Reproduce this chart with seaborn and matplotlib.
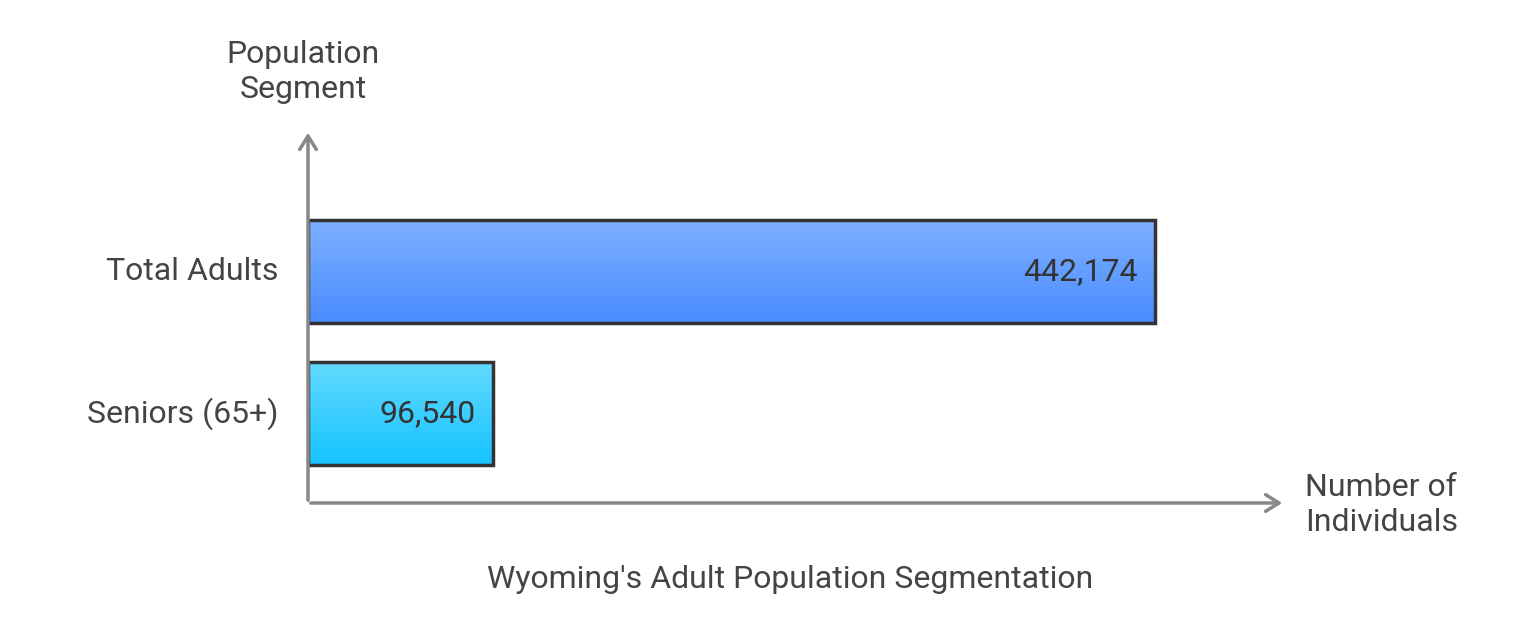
import matplotlib
matplotlib.use("Agg")
import matplotlib.pyplot as plt
import seaborn as sns
import numpy as np
import pandas as pd
from matplotlib.colors import LinearSegmentedColormap

categories = ["Total Adults", "Seniors (65+)"]
values = [442174, 96540]
value_labels = ["442,174", "96,540"]
grad_colors = [("#7DB0FF", "#4A8CFF"), ("#62DAFF", "#16C3FF")]

sns.set_theme(style="white")
plt.rcParams['font.family'] = ['Roboto', 'DejaVu Sans']

fig = plt.figure(figsize=(15.36, 6.27), dpi=100)
W, H = 1536, 627
ax = fig.add_axes([308/W, (H-503)/H, (1285-308)/W, (503-130)/H])
df = pd.DataFrame({"cat": categories, "val": values})
sns.barplot(data=df, y="cat", x="val", ax=ax, width=0.725, color="#4A8CFF",
            edgecolor="#333333", linewidth=2.5, zorder=2)
xmax = 442174 * 977 / 847
ax.set_xlim(0, xmax)
ax.set_ylim(1.630, -0.996)

for patch, (c1, c2) in zip(ax.patches, grad_colors):
    x0, y0 = patch.get_x(), patch.get_y()
    w, h = patch.get_width(), patch.get_height()
    cmap = LinearSegmentedColormap.from_list("g", [c1, c2])
    grad = np.linspace(0, 1, 100).reshape(-1, 1)
    im = ax.imshow(grad, cmap=cmap, aspect="auto", extent=[x0, x0 + w, y0 + h, y0],
                   zorder=2.5, origin="upper")
    im.set_clip_path(patch)
    patch.set_facecolor("none")
    patch.set_zorder(3)
ax.set_ylim(1.630, -0.996)
ax.set_xlim(0, xmax)

for i, (v, lab) in enumerate(zip(values, value_labels)):
    ax.text(v - xmax * 0.018, i, lab, ha="right", va="center", fontsize=23,
            color="#333333", zorder=4)

for s in ax.spines.values():
    s.set_visible(False)
ax.set_xticks([])
ax.set_yticks([])
ax.set_xlabel("")
ax.set_ylabel("")

ax.annotate("", xy=(1.0, 0), xytext=(0, 0), xycoords="axes fraction",
            arrowprops=dict(arrowstyle="->,head_length=0.8,head_width=0.5", color="#888888", lw=2.5))
ax.annotate("", xy=(0, 1.0), xytext=(0, 0), xycoords="axes fraction",
            arrowprops=dict(arrowstyle="->,head_length=0.8,head_width=0.5", color="#888888", lw=2.5))

for i, c in enumerate(categories):
    ax.text(-xmax * 0.03, i, c, ha="right", va="center", fontsize=23, color="#444444")

fig.text(303/W, 1 - 72/H, "Population\nSegment", ha="center", va="center", fontsize=23,
         color="#444444", linespacing=1.25)
fig.text(1305/W, 1 - 505/H, "Number of\nIndividuals", ha="left", va="center", fontsize=23,
         color="#444444", linespacing=1.25)
fig.text(790/W, 1 - 580/H, "Wyoming's Adult Population Segmentation", ha="center",
         va="center", fontsize=23, color="#444444")

fig.savefig("out.png", dpi=100, facecolor="white")
